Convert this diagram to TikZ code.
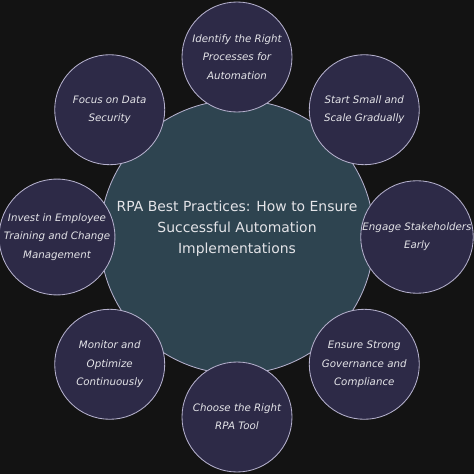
\documentclass[tikz,border=0pt]{standalone}
\usepackage{fontspec}
\setmainfont{DejaVu Sans}
\usetikzlibrary{positioning}

\definecolor{bgdark}{HTML}{131313}
\definecolor{hubfill}{HTML}{2E4450}
\definecolor{leaffill}{HTML}{2D2A47}
\definecolor{rimline}{HTML}{B4B0CC}
\definecolor{txtlight}{HTML}{E4E4E8}

\begin{document}
\begin{tikzpicture}[x=0.025cm, y=0.025cm,
  hub/.style={draw=rimline, line width=0.6pt, fill=hubfill, circle, minimum size=274*0.025cm, inner sep=0pt},
  hubtext/.style={align=center, text=txtlight, font=\fontsize{9.9}{15}\selectfont},
  leaf/.style={draw=rimline, line width=0.6pt, fill=leaffill, circle, minimum size=110*0.025cm, inner sep=0pt, align=center, text=txtlight, font=\fontsize{7.3}{13}\selectfont\itshape}]
\fill[bgdark] (-237,-237) rectangle (237,237);
\useasboundingbox (-237,-237) rectangle (237,237);
\node[hub] (H) at (0,0) {};
\node[hubtext] (HT) at ([yshift=8*0.025cm]H.center) {RPA Best Practices: How to Ensure\\Successful Automation\\Implementations};
\node[leaf] (N) at (90:180) {Identify the Right\\Processes for\\Automation};
\node[leaf] (NE) at (45:180) {Start Small and\\Scale Gradually};
\node[leaf] (E) at (0:180) {Engage Stakeholders\\Early};
\node[leaf] (SE) at (-45:180) {Ensure Strong\\Governance and\\Compliance};
\node[leaf] (S) at (-90:180) {Choose the Right\\RPA Tool};
\node[leaf] (SW) at (-135:180) {Monitor and\\Optimize\\Continuously};
\node[leaf] (W) at (180:180) {Invest in Employee\\Training and Change\\Management};
\node[leaf] (NW) at (135:180) {Focus on Data\\Security};
\end{tikzpicture}
\end{document}
